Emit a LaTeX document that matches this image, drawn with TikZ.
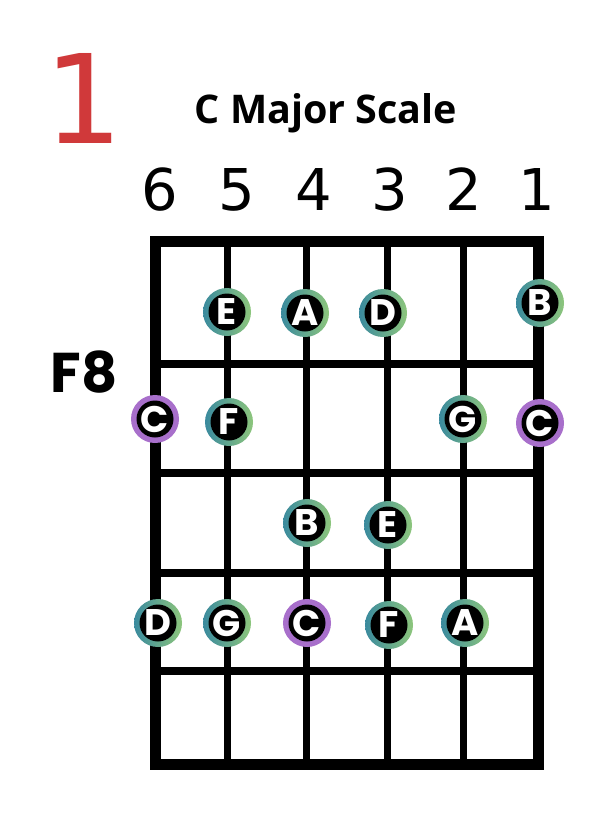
\documentclass[tikz,border=0pt]{standalone}
\usepackage{fontspec}
\newfontfamily\digitfont{DejaVu Sans}
\newfontfamily\titlefont{Open Sans}
\newfontfamily\notefont{Poppins}
\definecolor{numred}{HTML}{D0393A}
\definecolor{ringteal}{HTML}{3A8A9E}
\definecolor{ringgreen}{HTML}{8DC67C}
\definecolor{ringpurple}{HTML}{A86FCB}
\tikzset{
  notebase/.style={circle, minimum size=48pt, inner sep=0pt, text=white,
    font=\notefont\bfseries\fontsize{37}{37}\selectfont,
    path picture={\fill[black] (path picture bounding box.center) circle (18.5pt);}},
  tealnote/.style={notebase, left color=ringteal, right color=ringgreen},
  rootnote/.style={notebase, fill=ringpurple},
  border/.style={line width=11pt},
  stringline/.style={line width=7pt},
  fretline/.style={line width=7.5pt},
  strnum/.style={anchor=base, inner sep=0pt, font=\digitfont\fontsize{57.6}{58}\selectfont}
}
\begin{document}
\begin{tikzpicture}[x=1pt,y=-1pt]
\useasboundingbox (0,0) rectangle (600,815);
\fill[white] (0,0) rectangle (600,815);
% labels
\node[anchor=base, inner sep=0pt, text=numred, font=\digitfont\fontsize{123.5}{124}\selectfont] (big) at (84,143) {1};
\node[anchor=base, inner sep=0pt, font=\titlefont\bfseries\fontsize{39.5}{40}\selectfont] (title) at (326,123) {C Major Scale};
\node[strnum] (s6) at (160,210) {6};
\node[strnum] (s5) at (237,210) {5};
\node[strnum] (s4) at (314,210) {4};
\node[strnum] (s3) at (390,210) {3};
\node[strnum] (s2) at (464,210) {2};
\node[strnum] (s1) at (537,210) {1};
\node[anchor=base, inner sep=0pt, font=\notefont\bfseries\fontsize{56}{56}\selectfont] (fret) at (84,392) {F8};
% grid
\foreach \x in {227,306,387,463} \draw[stringline] (\x,241.5) -- (\x,764);
\foreach \y in {364,473,573,671} \draw[fretline] (155,\y) -- (538,\y);
\draw[border] (155,241.5) rectangle (538,764);
% notes
\node[tealnote] (r1e) at (227,312) {E};
\node[tealnote] (r1a) at (305,313) {A};
\node[tealnote] (r1d) at (383,313) {D};
\node[tealnote] (r1b) at (540,303) {B};
\node[rootnote] (r2c) at (155,419) {C};
\node[tealnote] (r2f) at (229,422) {F};
\node[tealnote] (r2g) at (463,419) {G};
\node[rootnote] (r2c2) at (540,423) {C};
\node[tealnote] (r3b) at (307,523) {B};
\node[tealnote] (r3e) at (388,525) {E};
\node[tealnote] (r4d) at (158,623) {D};
\node[tealnote] (r4g) at (227,623) {G};
\node[rootnote] (r4c) at (307,623) {C};
\node[tealnote] (r4f) at (389,625) {F};
\node[tealnote] (r4a) at (465,623) {A};
\end{tikzpicture}
\end{document}
